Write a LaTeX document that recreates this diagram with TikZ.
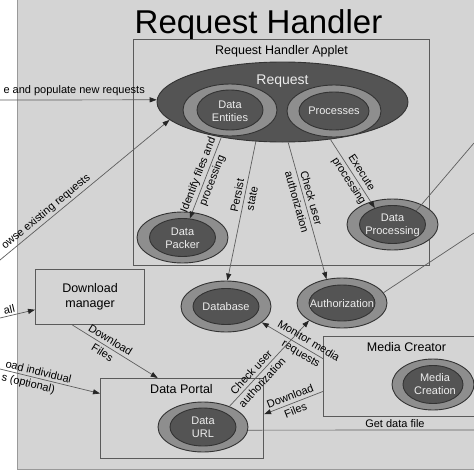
\documentclass[tikz,border=0pt]{standalone}
\usepackage{fontspec}
\setmainfont{Liberation Sans}
\usetikzlibrary{arrows.meta,shapes.geometric}
\definecolor{bg}{HTML}{D4D4D4}
\definecolor{dk}{HTML}{545454}
\definecolor{ring}{HTML}{8E8E8E}
\definecolor{edgec}{HTML}{333333}
\definecolor{lnc}{HTML}{5E5E5E}
\definecolor{boxc}{HTML}{5A5A5A}
\begin{document}
\begin{tikzpicture}[x=1pt,y=-1pt,
  lab/.style={font=\fontsize{11}{15}\selectfont, align=center, inner sep=0pt, text=black},
  wtxt/.style={font=\fontsize{11}{13}\selectfont, align=center, inner sep=0pt, text=white!93!black},
  outerE/.style={ellipse, draw=edgec, fill=ring, line width=0.9pt, inner sep=0pt},
  innerE/.style={ellipse, draw=edgec, fill=dk, line width=0.9pt, inner sep=0pt},
  boxn/.style={draw=boxc, line width=1.1pt, inner sep=0pt},
  boxlab/.style={font=\fontsize{12.5}{15}\selectfont, align=center, inner sep=0pt},
  conn/.style={draw=lnc, line width=0.7pt},
  arr/.style={conn, -{Triangle[length=7pt,width=5pt,color=black!85]}}
]
\path[use as bounding box] (0,0) rectangle (474,474);
\fill[white] (0,0) rectangle (474,474);
\fill[bg] (17,0) rectangle (474,469);
\draw[gray!80, line width=0.8pt] (17,0) -- (17,469) -- (474,469);

% title
\node[font=\fontsize{33}{38}\selectfont, anchor=base, inner sep=0pt] (title) at (258.5,33) {Request Handler};

% applet box
\node[boxn, anchor=north west, minimum width=296, minimum height=226] (applet) at (133,39) {};
\node[boxlab, anchor=base] (appletlab) at (281.5,54) {Request Handler Applet};

% Request ellipse
\node[ellipse, draw=edgec, fill=dk, line width=0.9pt, inner sep=0pt, minimum width=251, minimum height=80] (req) at (282.5,102) {};
\node[font=\fontsize{14}{16}\selectfont, text=white!93!black, anchor=base, inner sep=0pt] (reqlab) at (282.5,84) {Request};

% Data Entities
\node[outerE, minimum width=94, minimum height=52] (de) at (230,110) {};
\node[innerE, minimum width=66, minimum height=40] (dei) at (de) {};
\node[wtxt] (det) at (230,111) {Data\\Entities};

% Processes
\node[outerE, minimum width=94, minimum height=52] (pr) at (334,111) {};
\node[innerE, minimum width=70, minimum height=38] (pri) at (pr) {};
\node[wtxt] (prt) at (pr) {Processes};

% Data Packer
\node[outerE, minimum width=91, minimum height=51] (pk) at (182.5,237.5) {};
\node[innerE, minimum width=66, minimum height=38] (pki) at (pk) {};
\node[wtxt] (pkt) at (182.5,238.5) {Data\\Packer};

% Data Processing
\node[outerE, minimum width=91, minimum height=51] (dp) at (392.5,224.5) {};
\node[innerE, minimum width=66, minimum height=38] (dpi) at (dp) {};
\node[wtxt] (dpt) at (392.5,225.5) {Data\\Processing};

% Database
\node[outerE, minimum width=90, minimum height=51] (db) at (226,306.5) {};
\node[innerE, minimum width=66, minimum height=36] (dbi) at (db) {};
\node[wtxt] (dbt) at (226,307) {Database};

% Authorization
\node[outerE, minimum width=90, minimum height=50] (au) at (342,303) {};
\node[innerE, minimum width=66, minimum height=36] (aui) at (au) {};
\node[wtxt] (aut) at (342,304) {Authorization};

% Download manager
\node[boxn, anchor=north west, minimum width=109, minimum height=55] (dm) at (35,269) {};
\node[boxlab] (dmt) at (dm) {Download\\manager};

% Data Portal
\node[boxn, anchor=north west, minimum width=163, minimum height=80] (portal) at (100,378) {};
\node[boxlab, anchor=base] (portallab) at (181.5,393) {Data Portal};
\node[outerE, minimum width=90, minimum height=50] (url) at (203,427) {};
\node[innerE, minimum width=66, minimum height=38] (urli) at (url) {};
\node[wtxt] (urlt) at (203,427) {Data\\URL};

% Media Creator
\node[inner sep=0pt, minimum width=150, minimum height=79] (mc) at (399,376.5) {};
\draw[draw=boxc, line width=1.1pt] (mc.north east) -- (mc.north west) -- (mc.south west) -- (mc.south east);
\node[boxlab, anchor=base] (mclab) at (406.5,351) {Media Creator};
\node[outerE, minimum width=82, minimum height=51] (mcr) at (433,384.5) {};
\node[innerE, minimum width=60, minimum height=38] (mcri) at (mcr) {};
\node[wtxt] (mcrt) at (435,384.5) {Media\\Creation};

% free ends
\coordinate (c1) at (0,100);
\coordinate (c2) at (0,260);
\coordinate (c3) at (0,318);
\coordinate (c4) at (0,369);
\coordinate (r1) at (474,143);
\coordinate (r2) at (474,233);
\coordinate (r3) at (474,430);

% connectors
\draw[arr] (c1) -- (req.179);
\node[lab, anchor=base east] (c1lab) at (145,93) {e and populate new requests};
\draw[arr] (c2) -- node[lab, sloped, above=2pt, pos=0.30] {owse existing requests} (req.189.7);
\draw[arr] (c3) -- node[lab, sloped, above=1.5pt, pos=0.3] {all} (dm.193.4);
\draw[arr] (c4) -- node[lab, sloped, above=2.5pt, pos=0.37] {oad individual}
                   node[lab, sloped, below=2.5pt, pos=0.30] {s (optional)} (portal.163.6);
\draw[arr] (dm.238) -- node[lab, sloped, pos=0.4] {Download\\Files} (portal.121.5);

\draw[arr] (req.210) -- node[lab, sloped, pos=0.5] {Identify files and\\processing} (pki.69);
\draw[arr] (req.236) -- node[lab, sloped, pos=0.4] {Persist\\state} (db.87);
\draw[arr] (req.278) -- node[lab, sloped, pos=0.42] {Check user\\authorization} (au.123);
\draw[arr] (req.322) -- node[lab, sloped, pos=0.55] {Execute\\processing} (dpi.137);

\draw[conn] (dpi.30) -- (r1);
\draw[conn] (au.14) -- (r2);

\draw[arr] (mc.167.6) -- node[lab, sloped, pos=0.31] {Monitor media\\requests} (db.336);
\draw[arr] (url.38) -- node[lab, sloped, pos=0.34] {Check user\\authorization} (au.208.5);
\draw[arr] (mc.191.7) -- node[lab, sloped, pos=0.52] {Download\\Files} (portal.3.5);
\draw[conn] (url.-4) -- node[lab, above=2pt, pos=0.65] {Get data file} (r3);
\end{tikzpicture}
\end{document}
